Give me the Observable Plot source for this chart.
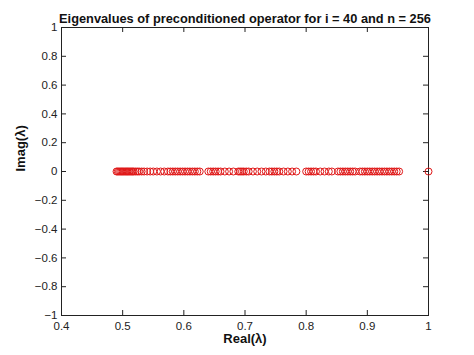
<!DOCTYPE html>
<html>
<head>
<meta charset="utf-8">
<script src="https://cdn.jsdelivr.net/npm/d3@7"></script>
<script src="https://cdn.jsdelivr.net/npm/@observablehq/plot@0.6"></script>
<style>
  html, body { margin: 0; padding: 0; background: #fff; }
  #chart { width: 474px; height: 355px; }
</style>
</head>
<body>
<div id="chart"></div>
<script>
const titleText = "Eigenvalues of preconditioned operator for i = 40 and n = 256";
const xLabel = "Real(λ)";
const yLabel = "Imag(λ)";
const xTicks = [0.4, 0.5, 0.6, 0.7, 0.8, 0.9, 1.0];
const yTicks = [-1, -0.8, -0.6, -0.4, -0.2, 0, 0.2, 0.4, 0.6, 0.8, 1];

// real parts of eigenvalues
const realParts = [
  0.490, 0.492, 0.494, 0.496, 0.498, 0.500, 0.502, 0.504, 0.506, 0.508,
  0.510, 0.512, 0.514, 0.516, 0.518, 0.521, 0.524, 0.527, 0.531, 0.535,
  0.540, 0.545, 0.550, 0.556, 0.562, 0.568, 0.574,
  0.578, 0.582, 0.586, 0.590, 0.594, 0.598, 0.602, 0.606, 0.610, 0.614,
  0.618, 0.622, 0.626,
  0.640, 0.644, 0.648, 0.652, 0.656, 0.660, 0.667, 0.674, 0.681,
  0.689, 0.692, 0.695, 0.698, 0.702, 0.706,
  0.713, 0.720, 0.727, 0.734, 0.740, 0.744, 0.748, 0.752, 0.756,
  0.763, 0.770, 0.777, 0.784,
  0.800, 0.804, 0.808, 0.812, 0.816, 0.823, 0.830, 0.837, 0.842,
  0.852, 0.856, 0.860, 0.864, 0.868, 0.872, 0.876, 0.880,
  0.888, 0.892, 0.896, 0.900, 0.904, 0.908, 0.912, 0.916, 0.920,
  0.924, 0.928, 0.932, 0.936, 0.940, 0.944, 0.948, 0.952,
  1.000
];
const imagParts = realParts.map(() => 0);

const data = realParts.map((re, i) => ({re, im: imagParts[i]}));

const W = 474, H = 355;
const mL = 61, mR = 46, mT = 27, mB = 40;
const plotW = W - mL - mR, plotH = H - mT - mB;
const tickLen = 5;
const font = "Liberation Sans, Arial, Helvetica, sans-serif";

const chart = Plot.plot({
  width: W,
  height: H,
  marginLeft: mL,
  marginRight: mR,
  marginTop: mT,
  marginBottom: mB,
  style: {fontFamily: font, fontSize: "11px", color: "#222", background: "#fff"},
  x: {domain: [0.4, 1], ticks: xTicks},
  y: {domain: [-1, 1], ticks: yTicks},
  marks: [
    Plot.frame({stroke: "#222", strokeWidth: 1}),
    // inward ticks on all four sides
    Plot.tickX(xTicks, {x: d => d, insetTop: plotH - tickLen, stroke: "#222"}),
    Plot.tickX(xTicks, {x: d => d, insetBottom: plotH - tickLen, stroke: "#222"}),
    Plot.tickY(yTicks, {y: d => d, insetRight: plotW - tickLen, stroke: "#222"}),
    Plot.tickY(yTicks, {y: d => d, insetLeft: plotW - tickLen, stroke: "#222"}),
    Plot.axisX(xTicks, {tickSize: 0, tickPadding: 6, label: null, fontSize: 11.5, fill: "#222",
      tickFormat: d => d3.format("~g")(d)}),
    Plot.axisY(yTicks, {tickSize: 0, tickPadding: 4, label: null, fontSize: 11.5, fill: "#222",
      tickFormat: d => d3.format("~g")(d).replace("-", "−")}),
    Plot.dot(data, {x: "re", y: "im", r: 3.5, stroke: "#e01818", strokeWidth: 1, fill: "none"}),
    Plot.text([titleText], {frameAnchor: "top", dy: -14, fontWeight: "bold", fontSize: 12.8, fill: "#111"}),
    Plot.text([xLabel], {frameAnchor: "bottom", dy: 27, fontWeight: "bold", fontSize: 13, fill: "#111"}),
    Plot.text([yLabel], {frameAnchor: "left", dx: -41, rotate: -90, fontWeight: "bold", fontSize: 13, fill: "#111"})
  ]
});
document.getElementById("chart").appendChild(chart);
</script>
</body>
</html>
